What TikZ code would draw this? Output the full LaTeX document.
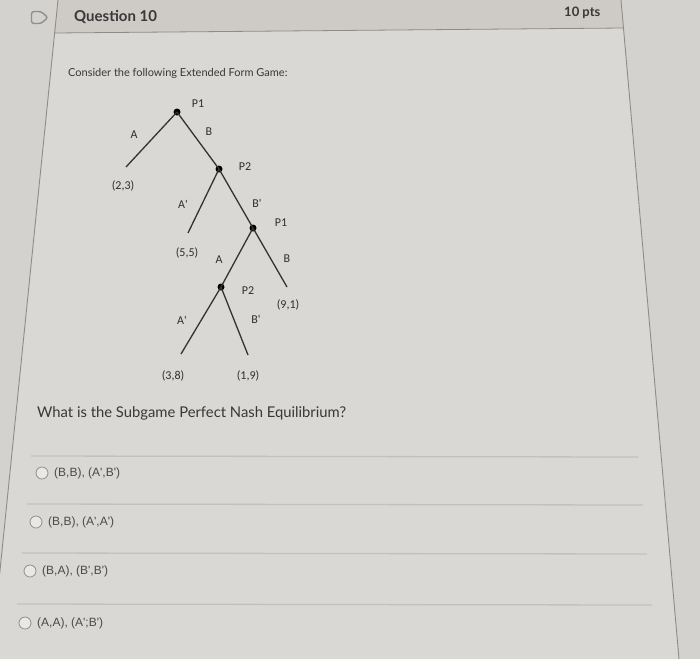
\documentclass[tikz,border=0pt]{standalone}
\usepackage{fontspec}
\setmainfont{Lato}
\newfontfamily\treefont{Carlito}
\newfontfamily\ansfont{Liberation Sans}
\definecolor{bgout}{HTML}{D4D2CE}
\definecolor{cardbg}{HTML}{DAD8D4}
\definecolor{headbg}{HTML}{CECBC6}
\definecolor{border}{HTML}{8E8C88}
\definecolor{sepline}{HTML}{C3C1BD}
\definecolor{txt}{HTML}{383838}
\definecolor{treetxt}{HTML}{2E2E2E}
\definecolor{anstxt}{HTML}{4A4A4A}
\definecolor{radio}{HTML}{8F8F8F}
\tikzset{
  lbl/.style={inner sep=0pt, text=treetxt, font=\treefont\fontsize{12}{14}\selectfont},
  branch/.style={line width=1.3pt, draw=black!80},
  dot/.style={circle, fill=black, inner sep=0pt, minimum size=7pt},
  ans/.style={anchor=west, inner sep=0pt, text=anstxt, font=\ansfont\fontsize{12}{14}\selectfont},
  radiobtn/.style={circle, draw=radio, fill=cardbg!60!white, line width=0.8pt, minimum size=12pt, inner sep=0pt},
  sep/.style={draw=sepline, line width=1.3pt}
}
\begin{document}
\begin{tikzpicture}[x=1pt,y=-1pt]
\useasboundingbox (0,0) rectangle (700,659);
\clip (0,0) rectangle (700,659);
\fill[bgout] (0,0) rectangle (700,659);
% card
\fill[cardbg] (58,0) -- (621,0) -- (679,659) -- (-9,659) -- cycle;
\fill[headbg] (58,0) -- (621,0) -- (623.5,28) -- (54.6,33) -- cycle;
\draw[border, line width=0.8pt] (54.6,33) -- (623.5,28);
\draw[border, line width=0.9pt] (58,0) -- (-9,659);
\draw[border, line width=0.9pt] (621,0) -- (679,659);
% icon
\draw[radio, line width=1.4pt, rounded corners=2.5pt] (31.5,11.5) -- (41,11.5) -- (48,17.5) -- (41,23.5) -- (31.5,23.5) -- cycle;
% header texts
\node[anchor=west, inner sep=0pt, text=txt, font=\bfseries\fontsize{15}{18}\selectfont] (qtitle) at (74,17) {Question 10};
\node[anchor=west, inner sep=0pt, text=txt, font=\bfseries\fontsize{13}{16}\selectfont] (pts) at (564,13) {10 pts};
\node[anchor=west, inner sep=0pt, text=txt, font=\fontsize{11}{13}\selectfont] (intro) at (68,73) {Consider the following Extended Form Game:};
% tree nodes
\node[dot] (r) at (177,112) {};
\node[dot] (n2) at (219,169) {};
\node[dot] (n3) at (253,228) {};
\node[dot] (n4) at (221,287) {};
\coordinate (la) at (126,167);
\coordinate (la2) at (188,233);
\coordinate (lb) at (287,287);
\coordinate (la4) at (181,354);
\coordinate (lb4) at (248,355);
\draw[branch] (r.center) -- (la);
\draw[branch] (r.center) -- (n2.center);
\draw[branch] (n2.center) -- (la2);
\draw[branch] (n2.center) -- (n3.center);
\draw[branch] (n3.center) -- (n4.center);
\draw[branch] (n3.center) -- (lb);
\draw[branch] (n4.center) -- (la4);
\draw[branch] (n4.center) -- (lb4);
% tree labels
\node[lbl] (p1a) at (198,104) {P1};
\node[lbl] (ea) at (134,135) {A};
\node[lbl] (eb) at (209,132) {B};
\node[lbl] (pay23) at (123,186) {(2,3)};
\node[lbl] (p2a) at (245,167) {P2};
\node[lbl] (eap) at (183,204) {A'};
\node[lbl] (ebp) at (257,203) {B'};
\node[lbl] (p1b) at (281,223) {P1};
\node[lbl] (pay55) at (187,253) {(5,5)};
\node[lbl] (ea2) at (219,260) {A};
\node[lbl] (eb2) at (287,259) {B};
\node[lbl] (pay91) at (288,305) {(9,1)};
\node[lbl] (p2b) at (248,291) {P2};
\node[lbl] (eap2) at (182,320) {A'};
\node[lbl] (ebp2) at (256,319) {B'};
\node[lbl] (pay38) at (173,376) {(3,8)};
\node[lbl] (pay19) at (248,376) {(1,9)};
% question
\node[anchor=west, inner sep=0pt, text=txt, font=\fontsize{14.8}{17}\selectfont] (q) at (37,413) {What is the Subgame Perfect Nash Equilibrium?};
% separators
\draw[sep] (31,456) -- (638,457);
\draw[sep] (27,504) -- (643,505);
\draw[sep] (22,553) -- (647,554);
\draw[sep] (17,604) -- (652,605);
% answers
\node[radiobtn] (r1) at (42,473) {};
\node[ans] (a1) at (54,473) {(B,B), (A',B')};
\node[radiobtn] (r2) at (36,522) {};
\node[ans] (a2) at (48,522) {(B,B), (A',A')};
\node[radiobtn] (r3) at (30,571) {};
\node[ans] (a3) at (42,571) {(B,A), (B',B')};
\node[radiobtn] (r4) at (25,623) {};
\node[ans] (a4) at (37,623) {(A,A), (A';B')};
\end{tikzpicture}
\end{document}
